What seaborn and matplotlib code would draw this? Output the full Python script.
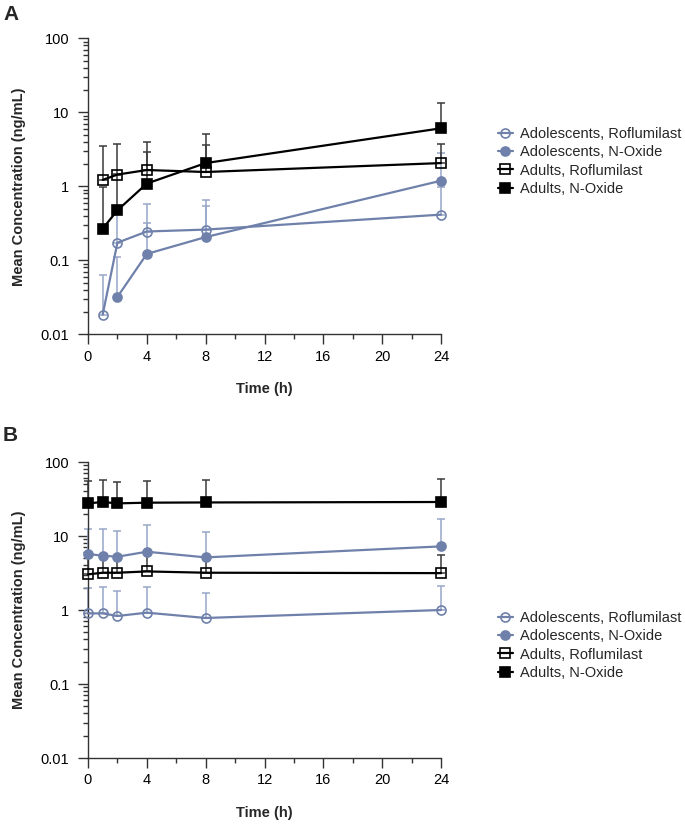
import numpy as np
import matplotlib
matplotlib.use("Agg")
import matplotlib.pyplot as plt
import seaborn as sns
from matplotlib.ticker import FixedLocator, FuncFormatter, NullFormatter

# ---------------- data ----------------
series_labels = ["Adolescents, Roflumilast", "Adolescents, N-Oxide",
                 "Adults, Roflumilast", "Adults, N-Oxide"]

# Panel A
a_time_adol_rof = [1, 2, 4, 8, 24]
a_adol_rof = [0.0185, 0.173, 0.245, 0.26, 0.414]
a_adol_rof_up = [0.064, 0.44, 0.58, 0.65, 0.98]

a_time_adol_nox = [2, 4, 8, 24]
a_adol_nox = [0.032, 0.122, 0.206, 1.19]
a_adol_nox_up = [0.111, 0.32, 0.55, 2.82]

a_time_adult = [1, 2, 4, 8, 24]
a_adult_rof = [1.22, 1.44, 1.66, 1.56, 2.06]
a_adult_rof_up = [3.5, 3.75, 4.0, 3.66, 3.78]
a_adult_nox = [0.268, 0.474, 1.09, 2.06, 6.08]
a_adult_nox_up = [0.98, 1.45, 2.92, 5.15, 13.4]

# Panel B
b_time = [0, 1, 2, 4, 8, 24]
b_adol_rof = [0.90, 0.90, 0.83, 0.92, 0.78, 1.0]
b_adol_rof_up = [2.0, 2.02, 1.78, 2.02, 1.68, 2.08]
b_adol_nox = [5.71, 5.42, 5.25, 6.13, 5.14, 7.24]
b_adol_nox_up = [12.4, 12.4, 11.7, 14.3, 11.2, 17.0]
b_adult_rof = [3.03, 3.19, 3.19, 3.32, 3.19, 3.15]
b_adult_rof_up = [5.6, 5.4, 5.2, 6.0, 5.1, 5.47]
b_adult_nox = [27.6, 28.8, 27.6, 28.2, 28.4, 28.8]
b_adult_nox_up = [55.0, 57.1, 53.0, 55.4, 56.5, 58.9]

x_major = [0, 4, 8, 12, 16, 20, 24]
x_minor = [2, 6, 10, 14, 18, 22]
y_major = [0.01, 0.1, 1, 10, 100]

# ---------------- style ----------------
sns.set_theme(style="ticks")
plt.rcParams['font.family'] = ['Liberation Sans', 'DejaVu Sans']

BLUE = "#6F81AB"
BLUE_ERR = "#97A6C7"
BLACK = "#000000"
BLACK_ERR = "#3A3A3A"
AXC = "#333333"

W, H = 685, 825
fig = plt.figure(figsize=(W / 100, H / 100), dpi=100)
axA = fig.add_axes([88 / W, 1 - 334.3 / H, 353 / W, 296 / H])
axB = fig.add_axes([88 / W, 1 - 758.0 / H, 353 / W, 296 / H])

styles = {
    "Adolescents, Roflumilast": dict(color=BLUE, ecolor=BLUE_ERR, marker="o", fill=False),
    "Adolescents, N-Oxide": dict(color=BLUE, ecolor=BLUE_ERR, marker="o", fill=True),
    "Adults, Roflumilast": dict(color=BLACK, ecolor=BLACK_ERR, marker="s", fill=False),
    "Adults, N-Oxide": dict(color=BLACK, ecolor=BLACK_ERR, marker="s", fill=True),
}


def draw_series(ax, t, v, up, label):
    st = styles[label]
    t = np.asarray(t, float)
    v = np.asarray(v, float)
    up = np.asarray(up, float)
    cont = ax.errorbar(t, v, yerr=[np.zeros_like(v), up - v], fmt="none",
                       ecolor=st["ecolor"], elinewidth=1.1, capsize=2.6,
                       capthick=1.1, zorder=2)
    for cap in cont[1]:
        cap.set_clip_on(False)
    for col in cont[2]:
        col.set_clip_on(False)
    sns.lineplot(x=t, y=v, ax=ax, color=st["color"], marker=st["marker"],
                 markersize=6.5,
                 markerfacecolor=(st["color"] if st["fill"] else "none"),
                 markeredgecolor=st["color"], markeredgewidth=1.2,
                 linewidth=1.6, label=label, clip_on=False, zorder=3,
                 estimator=None, sort=False)


def style_axis(ax):
    ax.set_yscale("log")
    ax.set_xlim(0, 24)
    ax.set_ylim(0.01, 100)
    ax.xaxis.set_major_locator(FixedLocator(x_major))
    ax.xaxis.set_minor_locator(FixedLocator(x_minor))
    ax.yaxis.set_major_locator(FixedLocator(y_major))
    minors = [m * d for d in [0.01, 0.1, 1, 10] for m in range(2, 10)]
    ax.yaxis.set_minor_locator(FixedLocator(minors))
    ax.yaxis.set_major_formatter(FuncFormatter(lambda val, p: f"{val:g}"))
    ax.yaxis.set_minor_formatter(NullFormatter())
    sns.despine(ax=ax)
    for s in ["left", "bottom"]:
        ax.spines[s].set_linewidth(1.0)
        ax.spines[s].set_color(AXC)
    ax.tick_params(which="major", length=7, width=1.0, color=AXC,
                   labelsize=10.5, labelcolor="black")
    ax.tick_params(axis="y", which="major", pad=6.5)
    ax.tick_params(axis="x", which="major", pad=4)
    ax.tick_params(which="minor", length=3.5, width=1.0, color=AXC)
    ax.set_xlabel("Time (h)", fontsize=10.5, fontweight="bold", va="center")
    ax.xaxis.set_label_coords(0.5, (334.3 - 389) / 296)
    ax.set_ylabel("Mean Concentration (ng/mL)", fontsize=10.5,
                  fontweight="bold", va="center")
    ax.yaxis.set_label_coords((19 - 88) / 353, 0.5)
    ax.grid(False)


# Panel A
draw_series(axA, a_time_adol_rof, a_adol_rof, a_adol_rof_up, series_labels[0])
draw_series(axA, a_time_adol_nox, a_adol_nox, a_adol_nox_up, series_labels[1])
draw_series(axA, a_time_adult, a_adult_rof, a_adult_rof_up, series_labels[2])
draw_series(axA, a_time_adult, a_adult_nox, a_adult_nox_up, series_labels[3])

# Panel B
draw_series(axB, b_time, b_adol_rof, b_adol_rof_up, series_labels[0])
draw_series(axB, b_time, b_adol_nox, b_adol_nox_up, series_labels[1])
draw_series(axB, b_time, b_adult_rof, b_adult_rof_up, series_labels[2])
draw_series(axB, b_time, b_adult_nox, b_adult_nox_up, series_labels[3])

for ax, cy in [(axA, 161.5), (axB, 645.5)]:
    style_axis(ax)
    handles, labels = ax.get_legend_handles_labels()
    if ax.get_legend() is not None:
        ax.get_legend().remove()
    order = [labels.index(l) for l in series_labels]
    fig.legend([handles[i] for i in order], [labels[i] for i in order],
               loc="center left", bbox_to_anchor=(498 / W, 1 - cy / H),
               bbox_transform=fig.transFigure, frameon=False, fontsize=10.5,
               handlelength=1.0, handletextpad=0.5, labelspacing=0.28,
               borderpad=0, borderaxespad=0)

fig.text(3 / W, 1 - 14.5 / H, "A", fontsize=15, fontweight="bold",
         ha="left", va="center")
fig.text(3 / W, 1 - 436 / H, "B", fontsize=15, fontweight="bold",
         ha="left", va="center")

fig.savefig("out.png", dpi=100)
